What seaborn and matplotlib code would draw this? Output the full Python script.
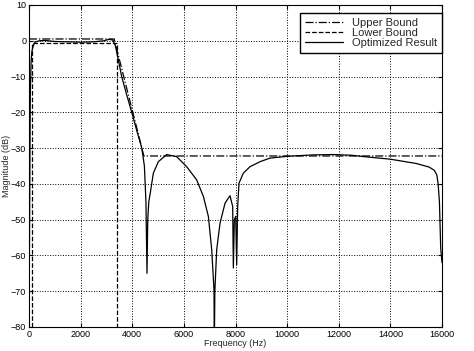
import numpy as np
import pandas as pd
import seaborn as sns
import matplotlib
matplotlib.use('Agg')
import matplotlib.pyplot as plt

# bounds
upper_freq = [0, 3300, 4450, 16000]
upper_mag = [0.5, 0.5, -32.2, -32.2]

lower_freq = [130, 130, 3400, 3400]
lower_mag = [-80, -0.5, -0.5, -80]

# optimized response, traced by eye
opt_freq = [0, 30, 50, 80, 110, 160, 230, 400, 600, 1000, 1500, 2000, 2500, 2900,
            3100, 3250, 3350, 3450, 3590, 3780, 3980, 4170, 4370, 4470, 4530,
            4571, 4600, 4640, 4688, 4817, 5010, 5334, 5722, 6109, 6497, 6755, 6949,
            7078, 7167, 7180, 7200, 7271, 7400, 7594, 7787, 7890, 7916, 7955, 8007,
            8046, 8084, 8136, 8303, 8561, 8949, 9336, 10000, 11000, 11800, 12500,
            13000, 14000, 15000, 15500, 15700, 15800, 15850, 15900, 15950, 16000]
opt_mag = [-80, -40, -15, -6, -3, -1.5, -0.4, 0.0, 0.1, -0.2, -0.3, -0.4, -0.3, 0.0,
           0.4, 0.2, -1.5, -5, -10, -15, -20, -25, -30, -35, -45,
           -65, -50, -45, -43, -37.0, -33.8, -31.8, -32.4, -35.2, -38.9, -43.5, -49.1,
           -58.4, -69.6, -85, -70, -58.4, -51, -45.4, -43.3, -46.3, -63.5, -50, -49.1,
           -62.6, -46.3, -39.8, -37.0, -35.2, -33.8, -32.8, -32.3, -31.9, -31.8, -32.0,
           -32.4, -33.1, -34.3, -35.3, -36.2, -37.5, -40, -45, -58, -62]

x_ticks = list(range(0, 16001, 2000))
y_ticks = list(range(-80, 11, 10))

sns.set_style('ticks')
plt.rcParams.update({'font.family': ['Liberation Sans', 'DejaVu Sans'], 'font.size': 7})

fig = plt.figure(figsize=(4.74, 3.51), dpi=100)
ax = fig.add_axes([0.0612, 0.0684, 0.8713, 0.9174])

up = pd.DataFrame({'f': upper_freq, 'm': upper_mag})
lo = pd.DataFrame({'f': lower_freq, 'm': lower_mag})
opt = pd.DataFrame({'f': opt_freq, 'm': opt_mag})

sns.lineplot(data=up, x='f', y='m', ax=ax, sort=False, estimator=None, color='black',
             lw=0.9, linestyle='-.', label='Upper Bound')
sns.lineplot(data=lo, x='f', y='m', ax=ax, sort=False, estimator=None, color='black',
             lw=0.9, linestyle='--', label='Lower Bound')
sns.lineplot(data=opt, x='f', y='m', ax=ax, sort=False, estimator=None, color='black',
             lw=0.9, linestyle='-', label='Optimized Result')

ax.set_xlim(0, 16000)
ax.set_ylim(-80, 10)
ax.set_xticks(x_ticks)
ax.set_yticks(y_ticks)
ax.grid(True, linestyle=':', color='black', lw=0.7)
ax.tick_params(direction='in', length=3, width=0.8, labelsize=6.5, colors='black', pad=2)
ax.tick_params(top=True, right=True)
for s in ax.spines.values():
    s.set_color('black')
    s.set_linewidth(0.8)
ax.set_xlabel('Frequency (Hz)', fontsize=6.5, labelpad=0)
ax.set_ylabel('Magnitude (dB)', fontsize=6.5, labelpad=0)

leg = ax.legend(loc='upper right', bbox_to_anchor=(442 / 474, 1 - 13 / 351),
                bbox_transform=fig.transFigure, fontsize=8, frameon=True, fancybox=False,
                edgecolor='black', framealpha=1, handlelength=3.4,
                borderpad=0.45, labelspacing=0.0, borderaxespad=0)
leg.get_frame().set_linewidth(1.0)

plt.savefig('out.png', dpi=100)
